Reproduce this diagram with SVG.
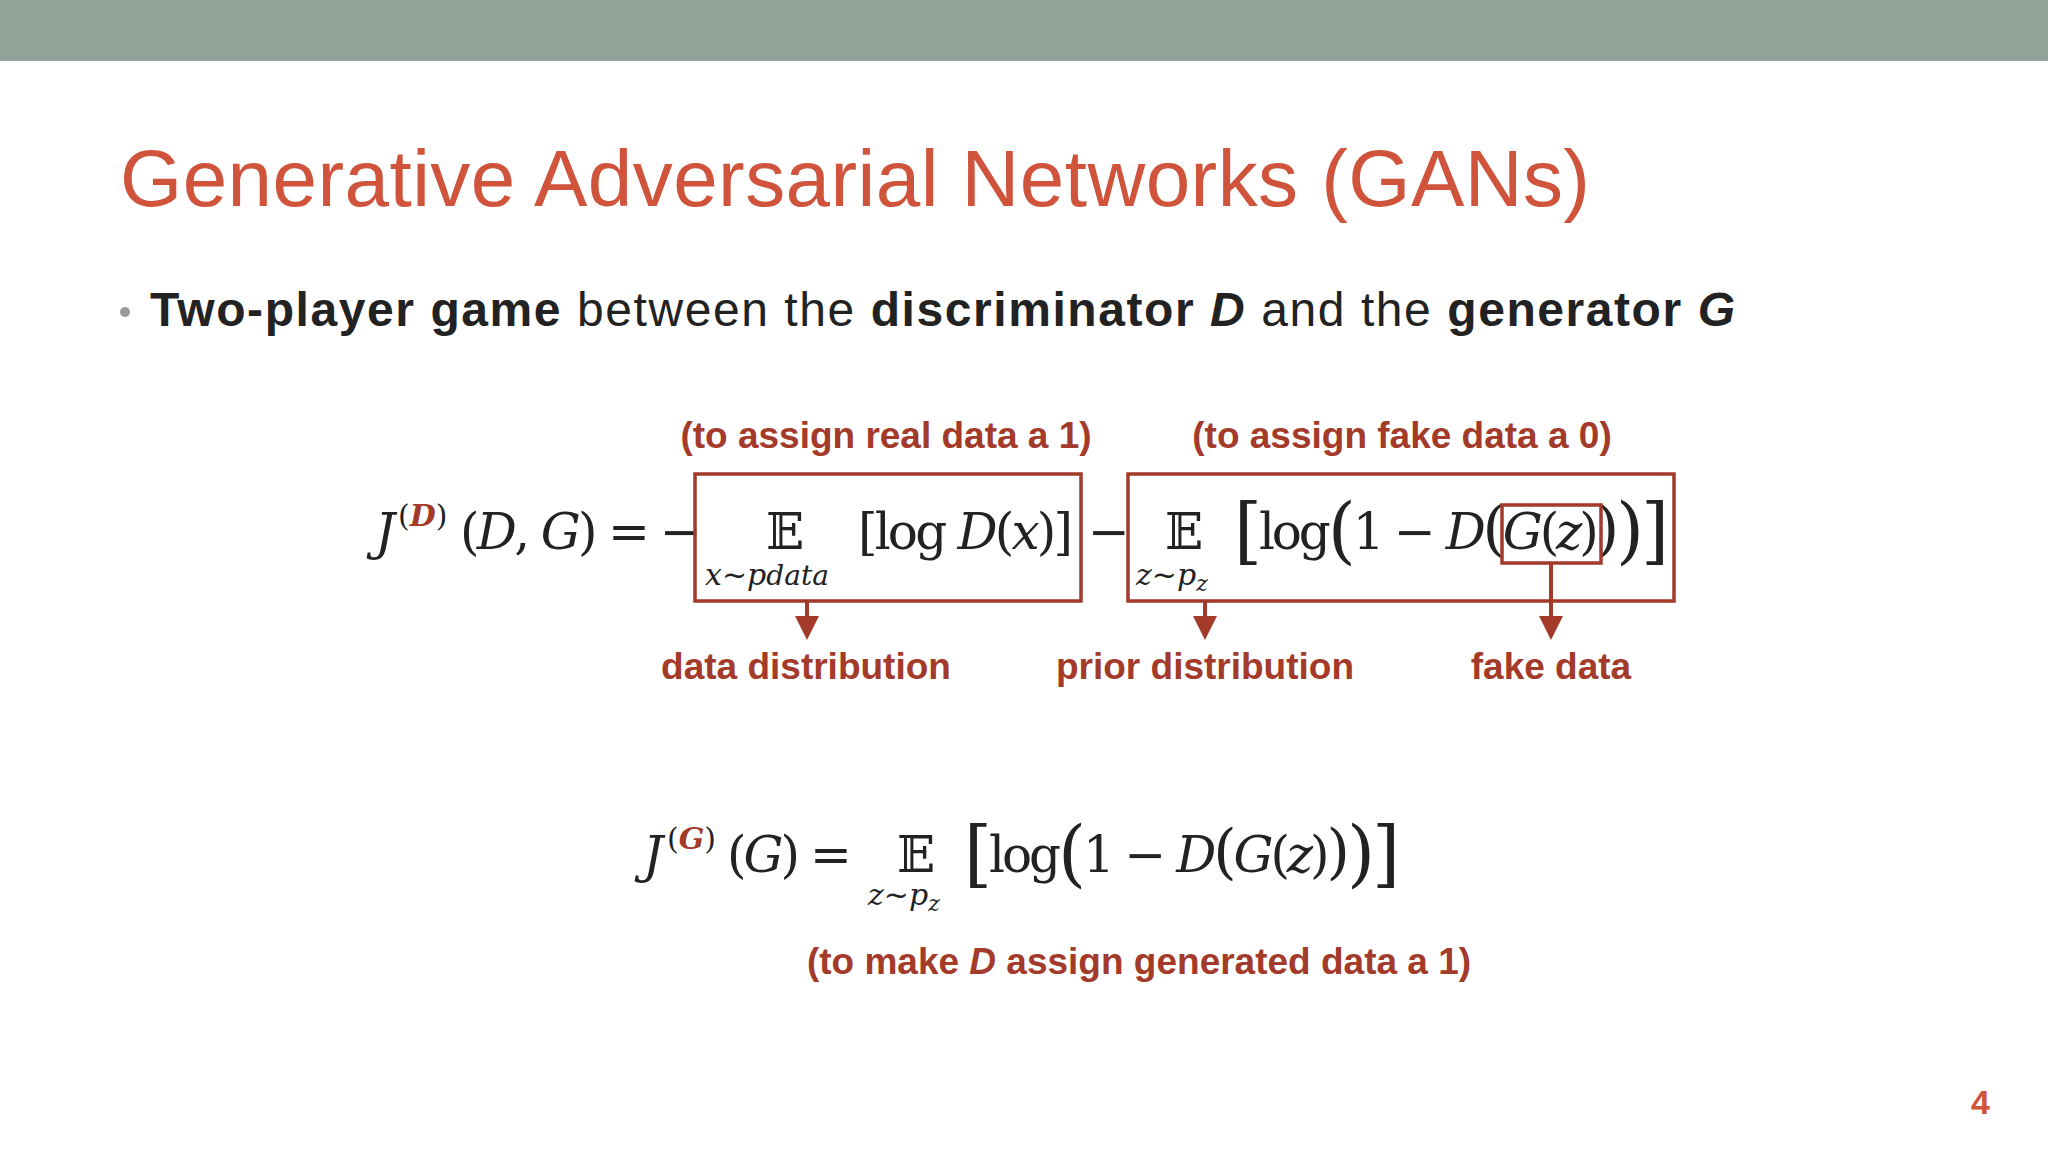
<svg xmlns="http://www.w3.org/2000/svg" width="2048" height="1152" viewBox="0 0 2048 1152">
<defs>
<style>
.m{font-family:"DejaVu Serif","Liberation Serif",serif;font-size:50px;fill:#222}
.i{font-style:italic}
.s{font-size:30px}
.b{font-size:72px}
.lab{font-family:"Liberation Sans",Arial,sans-serif;font-weight:bold;font-size:37px;fill:#a33a2a}
.box{fill:none;stroke:#a33a2a;stroke-width:3.5}
.arr{stroke:#a33a2a;stroke-width:4;fill:none;marker-end:url(#ah)}
</style>
<marker id="ah" markerWidth="6" markerHeight="6" refX="3" refY="3" orient="auto"><path d="M0,0L6,3L0,6z" fill="#a33a2a"/></marker>
</defs>
<rect x="0" y="0" width="2048" height="1152" fill="#fff"/>
<rect x="0" y="0" width="2048" height="61" fill="#92a39a"/>
<text x="120" y="206" font-family="Liberation Sans,Arial,sans-serif" font-size="80" fill="#d0533b" textLength="1470">Generative Adversarial Networks (GANs)</text>
<circle cx="125" cy="312" r="5" fill="#999"/>
<text x="150" y="326" font-family="Liberation Sans,Arial,sans-serif" font-size="48" fill="#222" textLength="1585"><tspan font-weight="bold">Two-player game</tspan> between the <tspan font-weight="bold">discriminator <tspan font-style="italic">D</tspan></tspan> and the <tspan font-weight="bold">generator <tspan font-style="italic">G</tspan></tspan></text>

<g id="eq1">
<text class="m i" x="375" y="549">J</text>
<text class="m s" x="398" y="526">(<tspan class="i" font-weight="bold" fill="#a33a2a">D</tspan>)</text>
<text class="m" x="460" y="549" textLength="190">(<tspan class="i">D</tspan>, <tspan class="i">G</tspan>) =</text>
<text class="m" x="660" y="549">−</text>
<text class="m" x="766" y="549">𝔼</text>
<text class="m i s" x="705" y="585">x~p<tspan font-size="28">data</tspan></text>
<text class="m" x="858" y="549" textLength="215">[log <tspan class="i">D</tspan>(<tspan class="i">x</tspan>)]</text>
<text class="m" x="1088" y="549">−</text>
<text class="m" x="1165" y="549">𝔼</text>
<text class="m i s" x="1136" y="585">z~p<tspan font-size="22" dy="6">z</tspan></text>
<text class="m" x="1234" y="549" textLength="435"><tspan class="b" dy="6">[</tspan><tspan dy="-6">log</tspan><tspan class="b" dy="6">(</tspan><tspan dy="-6">1 − </tspan><tspan class="i">D</tspan><tspan font-size="60">(</tspan><tspan class="i">G</tspan>(<tspan class="i">z</tspan>)<tspan font-size="60">)</tspan><tspan class="b" dy="6">)]</tspan></text>
</g>
<g id="boxes">
<rect class="box" x="695" y="474" width="386" height="127"/>
<rect class="box" x="1128" y="474" width="546" height="127"/>
<rect class="box" x="1502" y="505" width="99" height="58"/>
</g>
<g id="connectors">
<line class="arr" x1="807" y1="601" x2="807" y2="628"/>
<line class="arr" x1="1205" y1="601" x2="1205" y2="628"/>
<line class="arr" x1="1551" y1="563" x2="1551" y2="628"/>
</g>
<g id="labels">
<text class="lab" x="886" y="448" text-anchor="middle">(to assign real data a 1)</text>
<text class="lab" x="1402" y="448" text-anchor="middle">(to assign fake data a 0)</text>
<text class="lab" x="806" y="679" text-anchor="middle">data distribution</text>
<text class="lab" x="1205" y="679" text-anchor="middle">prior distribution</text>
<text class="lab" x="1551" y="679" text-anchor="middle">fake data</text>
<text class="lab" x="1139" y="974" text-anchor="middle">(to make <tspan font-style="italic">D</tspan> assign generated data a 1)</text>
</g>
<g id="eq2">
<text class="m i" x="643" y="872">J</text>
<text class="m s" x="667" y="849">(<tspan class="i" font-weight="bold" fill="#a33a2a">G</tspan>)</text>
<text class="m" x="727" y="872" textLength="125">(<tspan class="i">G</tspan>) =</text>
<text class="m" x="897" y="872">𝔼</text>
<text class="m i s" x="868" y="905">z~p<tspan font-size="22" dy="6">z</tspan></text>
<text class="m" x="964" y="872" textLength="436"><tspan class="b" dy="6">[</tspan><tspan dy="-6">log</tspan><tspan class="b" dy="6">(</tspan><tspan dy="-6">1 − </tspan><tspan class="i">D</tspan><tspan font-size="60">(</tspan><tspan class="i">G</tspan>(<tspan class="i">z</tspan>)<tspan font-size="60">)</tspan><tspan class="b" dy="6">)]</tspan></text>
</g>
<text x="1971" y="1114" font-family="Liberation Sans,Arial,sans-serif" font-weight="bold" font-size="34" fill="#d0533b">4</text>
</svg>
